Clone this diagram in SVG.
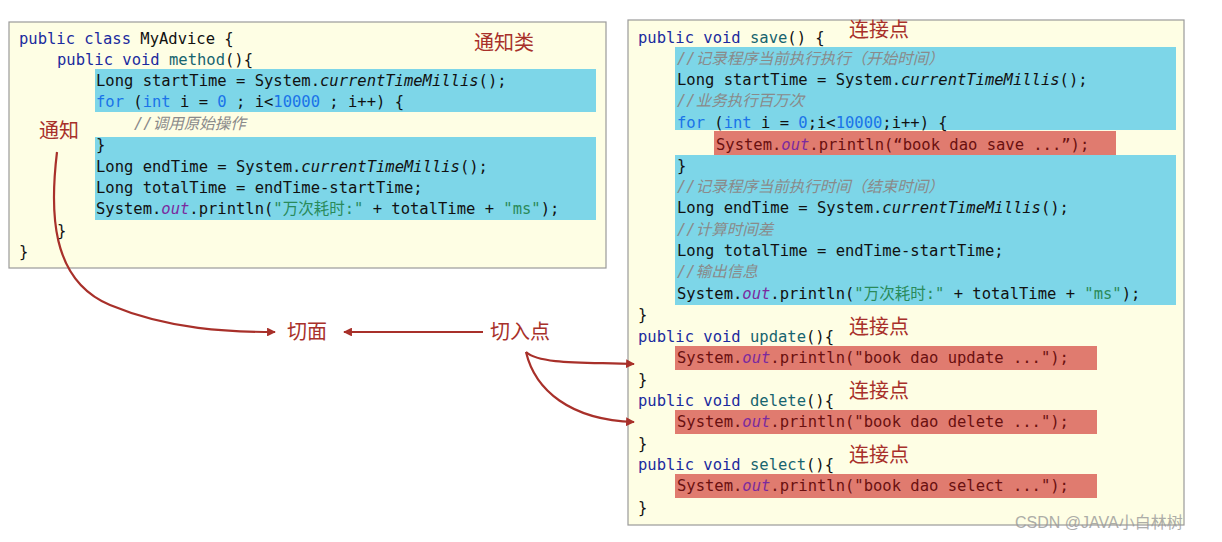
<svg xmlns="http://www.w3.org/2000/svg" width="1222" height="542" viewBox="0 0 1222 542">
<style>
.c{font-family:"DejaVu Sans Mono","Liberation Mono","Noto Sans CJK SC",monospace;font-size:15.5px;fill:#111;white-space:pre}
.k{fill:#1b2b9e}.m{fill:#17646f}.n{fill:#1a73e8}.cm{fill:#8a8a8a;font-style:italic}.o{fill:#7b2a9e;font-style:italic}.s{fill:#2a8a5a}.it{font-style:italic}.dr{fill:#6a1010}
.lb{font-family:"Noto Sans CJK SC",sans-serif;font-size:20px;fill:#a8302a}
.bl{fill:#7dd6e8}.rd{fill:#e07b6f}
.pn{fill:#fefee4;stroke:#9a9a9a;stroke-width:1.2}
.ar{fill:none;stroke:#a8302a;stroke-width:2.2;marker-end:url(#ah)}
</style>
<defs><marker id="ah" viewBox="0 0 10 10" refX="9" refY="5" markerWidth="4" markerHeight="4" orient="auto"><path d="M0,0L10,5L0,10z" fill="#a8302a"/></marker></defs>
<rect width="1222" height="542" fill="#fff"/>
<g id="advice">
<rect class="pn" x="9" y="22" width="597" height="246"/>
<rect class="bl" x="95" y="69" width="501" height="43"/>
<rect class="bl" x="95" y="137" width="501" height="83"/>
<text class="c" x="19" y="44"><tspan class="k">public class</tspan> MyAdvice {</text>
<text class="c" x="57" y="65"><tspan class="k">public void</tspan> <tspan class="m">method</tspan>(){</text>
<text class="c" x="96" y="86">Long startTime = System.<tspan class="it">currentTimeMillis</tspan>();</text>
<text class="c" x="96" y="107"><tspan class="n">for</tspan> (<tspan class="n">int</tspan> i = <tspan class="n">0</tspan> ; i&lt;<tspan class="n">10000</tspan> ; i++) {</text>
<text class="c cm" x="134" y="129">//调用原始操作</text>
<text class="c" x="96" y="150">}</text>
<text class="c" x="96" y="172">Long endTime = System.<tspan class="it">currentTimeMillis</tspan>();</text>
<text class="c" x="96" y="193">Long totalTime = endTime-startTime;</text>
<text class="c" x="96" y="214">System.<tspan class="o">out</tspan>.println(<tspan class="s">"万次耗时:"</tspan> + totalTime + <tspan class="s">"ms"</tspan>);</text>
<text class="c" x="57" y="236">}</text>
<text class="c" x="19" y="257">}</text>
<text class="lb" x="474" y="50">通知类</text>
</g>
<g id="target">
<rect class="pn" x="628" y="20" width="556" height="505"/>
<rect class="bl" x="675" y="47" width="501" height="83"/>
<rect class="bl" x="675" y="155" width="501" height="150"/>
<rect class="rd" x="714" y="131" width="402" height="24"/>
<rect class="rd" x="675" y="346" width="422" height="24"/>
<rect class="rd" x="675" y="410" width="422" height="24"/>
<rect class="rd" x="675" y="474" width="422" height="24"/>
<text class="c" x="638" y="43"><tspan class="k">public void</tspan> <tspan class="m">save</tspan>() {</text>
<text class="c cm" x="677" y="64">//记录程序当前执行执行（开始时间）</text>
<text class="c" x="677" y="85">Long startTime = System.<tspan class="it">currentTimeMillis</tspan>();</text>
<text class="c cm" x="677" y="106">//业务执行百万次</text>
<text class="c" x="677" y="128"><tspan class="n">for</tspan> (<tspan class="n">int</tspan> i = <tspan class="n">0</tspan>;i&lt;<tspan class="n">10000</tspan>;i++) {</text>
<text class="c dr" x="716" y="150">System.<tspan class="o">out</tspan>.println(“book dao save ...”);</text>
<text class="c" x="677" y="171">}</text>
<text class="c cm" x="677" y="192">//记录程序当前执行时间（结束时间）</text>
<text class="c" x="677" y="213">Long endTime = System.<tspan class="it">currentTimeMillis</tspan>();</text>
<text class="c cm" x="677" y="235">//计算时间差</text>
<text class="c" x="677" y="256">Long totalTime = endTime-startTime;</text>
<text class="c cm" x="677" y="277">//输出信息</text>
<text class="c" x="677" y="299">System.<tspan class="o">out</tspan>.println(<tspan class="s">"万次耗时:"</tspan> + totalTime + <tspan class="s">"ms"</tspan>);</text>
<text class="c" x="638" y="320">}</text>
<text class="c" x="638" y="342"><tspan class="k">public void</tspan> <tspan class="m">update</tspan>(){</text>
<text class="c dr" x="677" y="363">System.<tspan class="o">out</tspan>.println("book dao update ...");</text>
<text class="c" x="638" y="385">}</text>
<text class="c" x="638" y="406"><tspan class="k">public void</tspan> <tspan class="m">delete</tspan>(){</text>
<text class="c dr" x="677" y="427">System.<tspan class="o">out</tspan>.println("book dao delete ...");</text>
<text class="c" x="638" y="449">}</text>
<text class="c" x="638" y="470"><tspan class="k">public void</tspan> <tspan class="m">select</tspan>(){</text>
<text class="c dr" x="677" y="491">System.<tspan class="o">out</tspan>.println("book dao select ...");</text>
<text class="c" x="638" y="513">}</text>
<text class="lb" x="849" y="37">连接点</text>
<text class="lb" x="849" y="334">连接点</text>
<text class="lb" x="849" y="398">连接点</text>
<text class="lb" x="849" y="462">连接点</text>
</g>
<g id="labels">
<text class="lb" x="39" y="138">通知</text>
<text class="lb" x="287" y="339">切面</text>
<text class="lb" x="490" y="339">切入点</text>
</g>
<g id="connectors">
<path class="ar" d="M57,152 C50,210 50,280 110,305 C170,330 230,332 275,332"/>
<path class="ar" d="M483,332 L344,332"/>
<path class="ar" d="M526,352 C540,365 590,362 634,364"/>
<path class="ar" d="M526,352 C535,390 570,420 634,422"/>
</g>
<text x="1015" y="528" font-family="Liberation Sans,Noto Sans CJK SC,sans-serif" font-size="16" fill="#999" opacity="0.8">CSDN @JAVA小白林树</text>
</svg>
